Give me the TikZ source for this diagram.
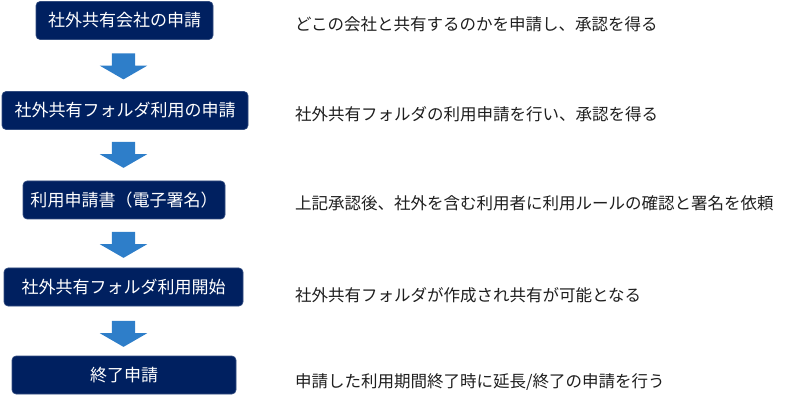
\documentclass[tikz,border=0pt]{standalone}
\usepackage{fontspec}
\setmainfont{Noto Sans CJK JP}
\usepackage{xcolor}
\usepackage{tikz}
\usetikzlibrary{positioning, shapes.arrows}

\definecolor{boxnavy}{RGB}{0, 32, 96}
\definecolor{flowblue}{RGB}{46, 126, 201}
\definecolor{notegray}{RGB}{30, 30, 30}

\begin{document}
\begin{tikzpicture}[x = 1pt, y = -1pt,
  stepbox/.style = {fill = boxnavy, draw = boxnavy!80!white, line width = 0.6pt,
    rounded corners = 4pt, text = white, font = \fontsize{17}{20}\selectfont,
    minimum height = 38pt, inner sep = 0pt},
  flowarrow/.style = {single arrow, fill = flowblue, draw = none, rotate = -90,
    minimum height = 26pt, inner xsep = 0pt, inner ysep = 11.5pt,
    single arrow head extend = 12pt, single arrow tip angle = 120},
  note/.style = {anchor = west, text = notegray, font = \fontsize{16.5}{19}\selectfont,
    inner sep = 0pt}]
\useasboundingbox (0, 0) rectangle (800, 403);
\node [stepbox, minimum width = 177pt] (apply) at (124.5, 20.5) {社外共有会社の申請};
\node [stepbox, minimum width = 246pt] (folder) at (125, 110.5) {社外共有フォルダ利用の申請};
\node [stepbox, minimum width = 202pt] (sign) at (124, 200) {利用申請書（電子署名）};
\node [stepbox, minimum width = 239pt] (start) at (123.5, 287) {社外共有フォルダ利用開始};
\node [stepbox, minimum width = 224pt] (finish) at (124, 375) {終了申請};
\node [flowarrow] (a1) at (123.5, 63) {};
\node [flowarrow] (a2) at (123.5, 151.5) {};
\node [flowarrow] (a3) at (123.5, 241.5) {};
\node [flowarrow] (a4) at (123.5, 330.5) {};
\node [note] (n1) at (295, 24) {どこの会社と共有するのかを申請し、承認を得る};
\node [note] (n2) at (295, 114) {社外共有フォルダの利用申請を行い、承認を得る};
\node [note] (n3) at (295, 203) {上記承認後、社外を含む利用者に利用ルールの確認と署名を依頼};
\node [note] (n4) at (295, 295) {社外共有フォルダが作成され共有が可能となる};
\node [note] (n5) at (295, 382) {申請した利用期間終了時に延長/終了の申請を行う};
\end{tikzpicture}
\end{document}
